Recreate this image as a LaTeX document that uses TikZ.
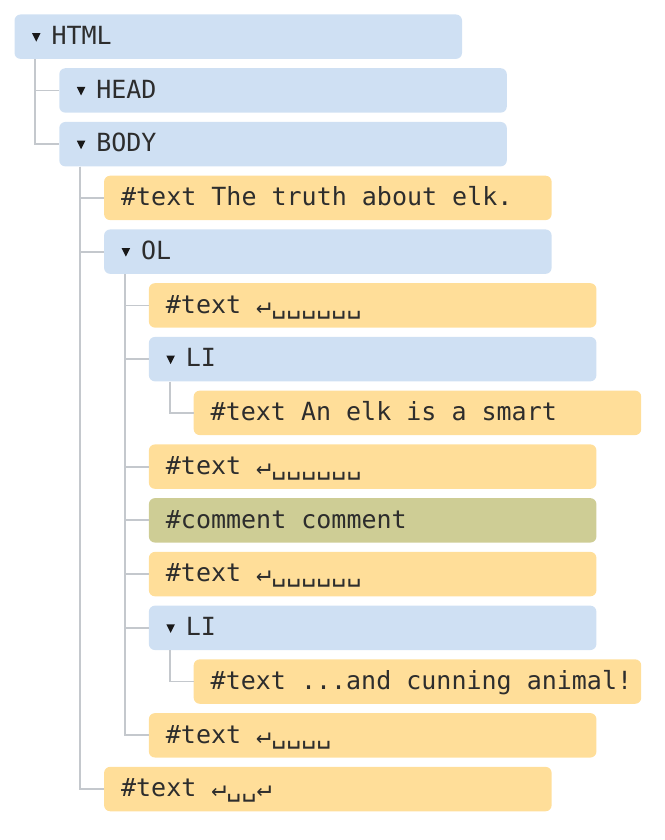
\documentclass[tikz,border=0pt]{standalone}
\usepackage{fontspec}
\setmonofont{DejaVu Sans Mono}
\definecolor{elblue}{RGB}{207,224,243}
\definecolor{txtorange}{RGB}{255,222,153}
\definecolor{cmtolive}{RGB}{206,205,149}
\definecolor{connector}{RGB}{196,200,205}
\definecolor{ink}{RGB}{45,45,45}
\newcommand{\boxfont}{\ttfamily\fontsize{25}{30}\selectfont}
\newcommand{\ws}{\hspace*{15.05pt}}
\tikzset{
  box/.style={anchor=north west, rounded corners=6pt, minimum height=44.4pt,
    inner ysep=0pt, align=left, text=ink,
    font=\boxfont, text height=19pt, text depth=3.4pt},
  elbox/.style={box, fill=elblue, inner xsep=37pt, text width=373.5pt},
  txtbox/.style={box, fill=txtorange, inner xsep=17pt, text width=413.5pt},
  cmtbox/.style={box, fill=cmtolive, inner xsep=17pt, text width=413.5pt},
  conn/.style={draw=connector, line width=1.8pt},
  tri/.style={fill=black!90}
}
\newcommand{\lbl}[1]{\mbox{#1}}
\begin{document}
\begin{tikzpicture}[x=1pt,y=-1pt]
\useasboundingbox (0,0) rectangle (664,840);
% rows: top = 14.3 + 53.74*i ; left = 14.3 + 44.8*level
\node[elbox]  (html)  at (14.3, 14.3)   {\lbl{HTML}};
\node[elbox]  (head)  at (59.1, 68.04)  {\lbl{HEAD}};
\node[elbox]  (body)  at (59.1, 121.78) {\lbl{BODY}};
\node[txtbox] (t1)    at (103.9,175.52) {\lbl{\#text\ws The\ws truth\ws about\ws elk.}};
\node[elbox]  (ol)    at (103.9,229.26) {\lbl{OL}};
\node[txtbox] (t2)    at (148.7,283.0)  {\lbl{\#text\ws ↵␣␣␣␣␣␣}};
\node[elbox]  (li1)   at (148.7,336.74) {\lbl{LI}};
\node[txtbox] (t3)    at (193.5,390.48) {\lbl{\#text\ws An\ws elk\ws is\ws a\ws smart}};
\node[txtbox] (t4)    at (148.7,444.22) {\lbl{\#text\ws ↵␣␣␣␣␣␣}};
\node[cmtbox] (c1)    at (148.7,497.96) {\lbl{\#comment\ws comment}};
\node[txtbox] (t5)    at (148.7,551.7)  {\lbl{\#text\ws ↵␣␣␣␣␣␣}};
\node[elbox]  (li2)   at (148.7,605.44) {\lbl{LI}};
\node[txtbox] (t6)    at (193.5,659.18) {\lbl{\#text\ws ...and\ws cunning\ws animal!}};
\node[txtbox] (t7)    at (148.7,712.92) {\lbl{\#text\ws ↵␣␣␣␣}};
\node[txtbox] (t8)    at (103.9,766.66) {\lbl{\#text\ws ↵␣␣↵}};
% triangles
\foreach \n in {html,head,body,ol,li1,li2}{
  \fill[tri] ([xshift=17.7pt,yshift=3.5pt]\n.west) -- ++(8.5,0) -- ++(-4.25,8.5) -- cycle;
}
% connectors
\foreach \p/\c in {html/head,html/body,
                   body/t1,body/ol,body/t8,
                   ol/t2,ol/li1,ol/t4,ol/c1,ol/t5,ol/li2,ol/t7,
                   li1/t3,li2/t6}{
  \draw[conn] ([xshift=21pt]\p.south west) |- (\c.west);
}
\end{tikzpicture}
\end{document}
